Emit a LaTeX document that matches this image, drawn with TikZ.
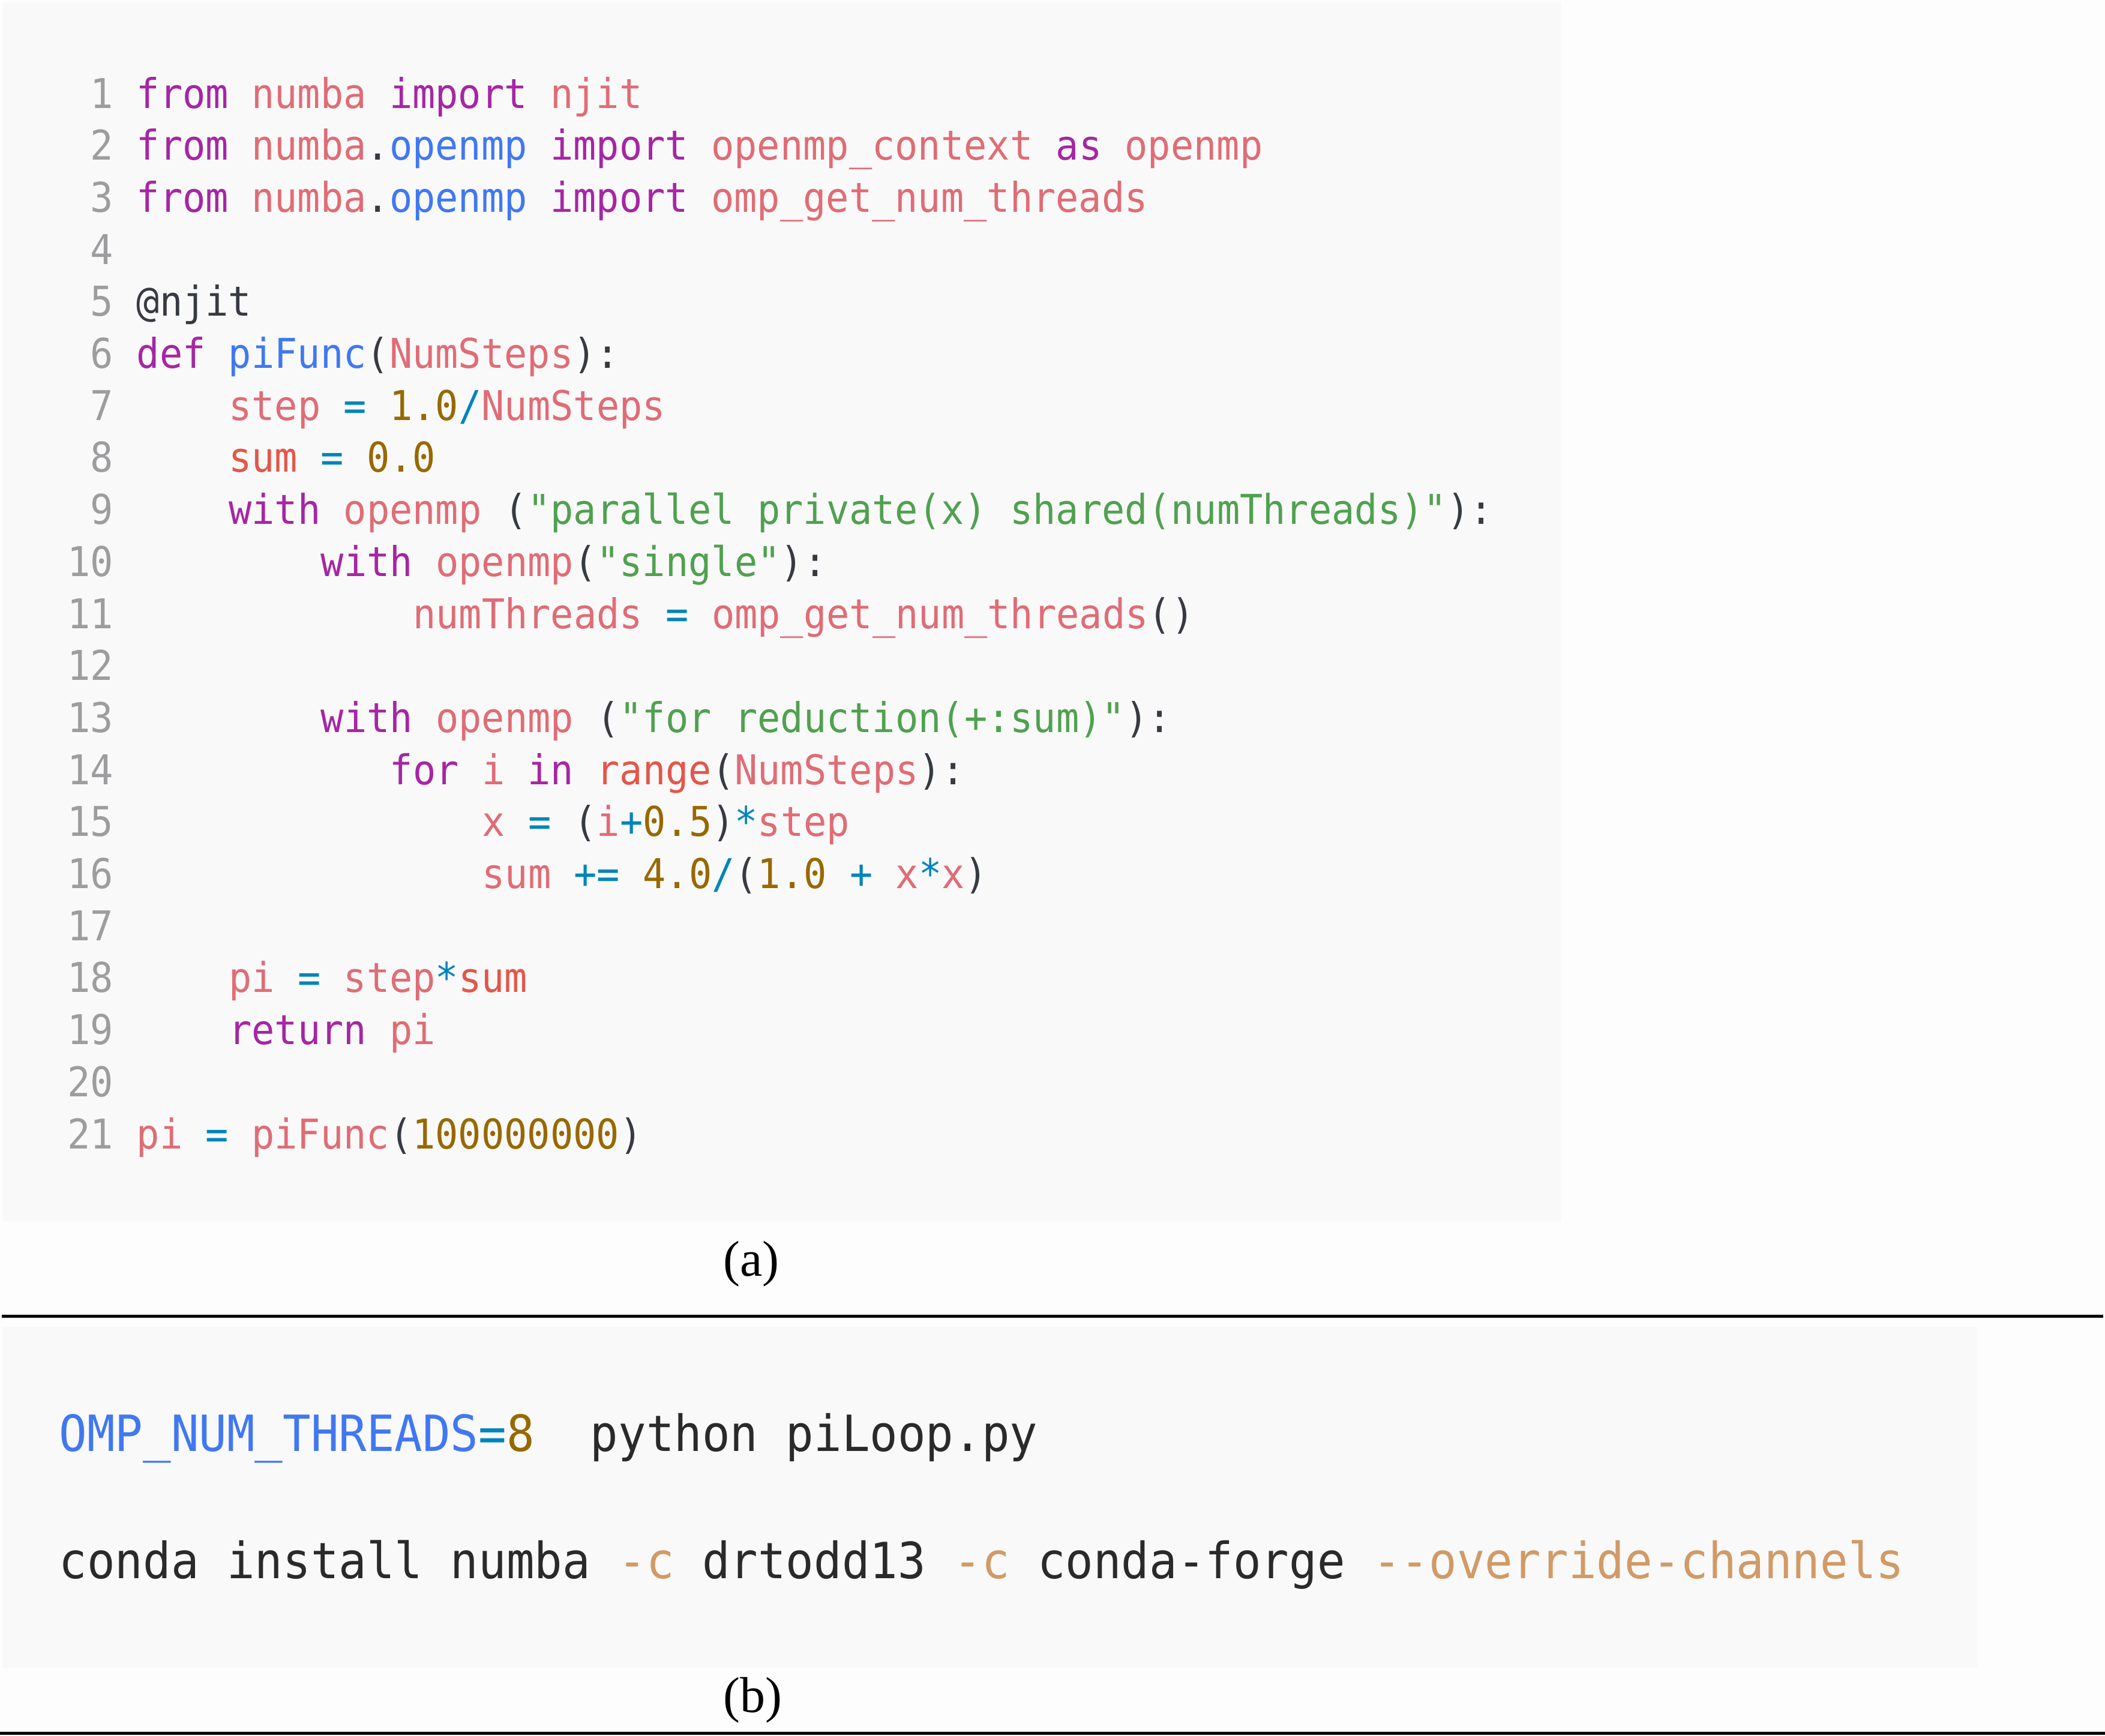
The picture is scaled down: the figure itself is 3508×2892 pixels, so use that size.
\documentclass[tikz,border=0pt]{standalone}
\usepackage{fontspec}
\setmainfont{Liberation Serif}
\newfontfamily\codefont[FakeStretch=0.93]{DejaVu Sans Mono}
\definecolor{ckwc}{HTML}{A626A4}
\definecolor{cvarc}{HTML}{E06C75}
\definecolor{cbic}{HTML}{E45649}
\definecolor{cfnc}{HTML}{4078F2}
\definecolor{cstrc}{HTML}{50A14F}
\definecolor{cnumc}{HTML}{986801}
\definecolor{copc}{HTML}{0184BC}
\definecolor{cplc}{HTML}{383A42}
\definecolor{clnc}{HTML}{9D9D9F}
\definecolor{cflagc}{HTML}{D19A66}
\definecolor{cshc}{HTML}{2A2A2A}
\definecolor{bgcodec}{HTML}{F9F9F9}
\definecolor{pagebgc}{HTML}{FDFDFD}
\newcommand\ckw[1]{\textcolor{ckwc}{#1}}
\newcommand\cvar[1]{\textcolor{cvarc}{#1}}
\newcommand\cbi[1]{\textcolor{cbic}{#1}}
\newcommand\cfn[1]{\textcolor{cfnc}{#1}}
\newcommand\cstr[1]{\textcolor{cstrc}{#1}}
\newcommand\cnum[1]{\textcolor{cnumc}{#1}}
\newcommand\cop[1]{\textcolor{copc}{#1}}
\newcommand\cpl[1]{\textcolor{cplc}{#1}}
\newcommand\cflag[1]{\textcolor{cflagc}{#1}}
\tikzset{
  lnum/.style={anchor=base east, inner sep=0pt, text=clnc, font=\codefont\fontsize{17.1pt}{20pt}\selectfont},
  codeline/.style={anchor=base west, inner sep=0pt, text=cplc, font=\codefont\fontsize{17.1pt}{20pt}\selectfont},
  shline/.style={anchor=base west, inner sep=0pt, text=cshc, font=\codefont\fontsize{20.8pt}{24pt}\selectfont},
  caption/.style={anchor=base, inner sep=0pt, text=black, font=\fontsize{21pt}{24pt}\selectfont},
  rulebar/.style={line width=1.3pt, black},
}
\begin{document}
\begin{tikzpicture}[x=0.25pt,y=-0.25pt]
\useasboundingbox (0,0) rectangle (3508,2892);
\fill[pagebgc] (0,0) rectangle (3508,2892);
% backgrounds
\fill[bgcodec] (4,4) rectangle (2602,2036);
\fill[bgcodec] (4,2211) rectangle (3295,2780);
% rules
\draw[rulebar] (3,2193.5) -- (3505,2193.5);
\draw[rulebar] (0,2888.5) -- (3508,2888.5);
% line numbers
\foreach \n in {1,...,21}{
  \node[lnum] (ln\n) at (190,{180+(\n-1)*86.7}) {\n};
}
% code lines (x = 227 + indent*38.37)
\node[codeline] (c1) at (227,180.0) {\ckw{from} \cvar{numba} \ckw{import} \cvar{njit}};
\node[codeline] (c2) at (227,266.7) {\ckw{from} \cvar{numba}\cpl{.}\cfn{openmp} \ckw{import} \cvar{openmp\_context} \ckw{as} \cvar{openmp}};
\node[codeline] (c3) at (227,353.4) {\ckw{from} \cvar{numba}\cpl{.}\cfn{openmp} \ckw{import} \cvar{omp\_get\_num\_threads}};
\node[codeline] (c5) at (227,526.8) {\cpl{@njit}};
\node[codeline] (c6) at (227,613.5) {\ckw{def} \cfn{piFunc}\cpl{(}\cvar{NumSteps}\cpl{):}};
\node[codeline] (c7) at (380.5,700.2) {\cvar{step} \cop{=} \cnum{1.0}\cop{/}\cvar{NumSteps}};
\node[codeline] (c8) at (380.5,786.9) {\cbi{sum} \cop{=} \cnum{0.0}};
\node[codeline] (c9) at (380.5,873.6) {\ckw{with} \cvar{openmp} \cpl{(}\cstr{"parallel private(x) shared(numThreads)"}\cpl{):}};
\node[codeline] (c10) at (534,960.3) {\ckw{with} \cvar{openmp}\cpl{(}\cstr{"single"}\cpl{):}};
\node[codeline] (c11) at (687.4,1047.0) {\cvar{numThreads} \cop{=} \cvar{omp\_get\_num\_threads}\cpl{()}};
\node[codeline] (c13) at (534,1220.4) {\ckw{with} \cvar{openmp} \cpl{(}\cstr{"for reduction(+:sum)"}\cpl{):}};
\node[codeline] (c14) at (649.1,1307.1) {\ckw{for} \cvar{i} \ckw{in} \cbi{range}\cpl{(}\cvar{NumSteps}\cpl{):}};
\node[codeline] (c15) at (802.6,1393.8) {\cvar{x} \cop{=} \cpl{(}\cvar{i}\cop{+}\cnum{0.5}\cpl{)}\cop{*}\cvar{step}};
\node[codeline] (c16) at (802.6,1480.5) {\cvar{sum} \cop{+=} \cnum{4.0}\cop{/}\cpl{(}\cnum{1.0} \cop{+} \cvar{x}\cop{*}\cvar{x}\cpl{)}};
\node[codeline] (c18) at (380.5,1653.9) {\cvar{pi} \cop{=} \cvar{step}\cop{*}\cbi{sum}};
\node[codeline] (c19) at (380.5,1740.6) {\ckw{return} \cvar{pi}};
\node[codeline] (c21) at (227,1914.0) {\cvar{pi} \cop{=} \cvar{piFunc}\cpl{(}\cnum{100000000}\cpl{)}};
% caption a
\node[caption] (capa) at (1252,2126) {(a)};
% shell lines
\node[shline] (s1) at (98,2418) {\cfn{OMP\_NUM\_THREADS}\cop{=}\cnum{8}\ \ python piLoop.py};
\node[shline] (s2) at (98,2630) {conda install numba \cflag{-c} drtodd13 \cflag{-c} conda-forge \cflag{-{}-override-channels}};
% caption b
\node[caption] (capb) at (1254,2853) {(b)};
\end{tikzpicture}
\end{document}
